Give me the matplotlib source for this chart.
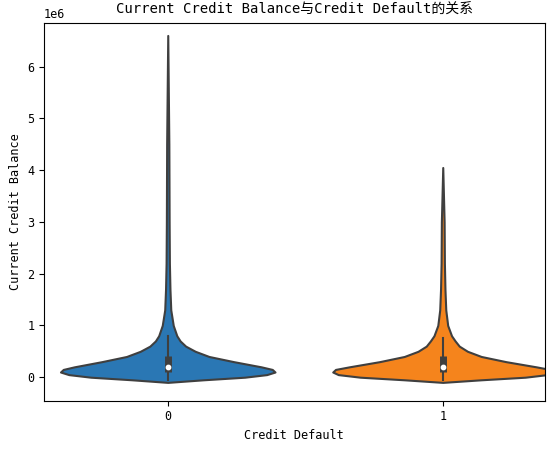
import matplotlib
matplotlib.use("Agg")
import matplotlib.pyplot as plt
import numpy as np

plt.rcParams['font.family'] = ['SimHei', 'DejaVu Sans Mono', 'Noto Sans CJK SC']
plt.rcParams['font.size'] = 8.5
plt.rcParams['axes.unicode_minus'] = False

categories = ["0", "1"]
colors = ["#2a77b4", "#f5841c"]

# density profiles: y (1e6) and half-width
prof_y = [
    [-0.1, -0.05, 0.0, 0.05, 0.1, 0.15, 0.2, 0.3, 0.4, 0.5, 0.6, 0.7, 0.8, 1.0, 1.3, 1.7, 2.2, 3.0, 4.5, 6.6],
    [-0.1, -0.05, 0.0, 0.05, 0.1, 0.15, 0.2, 0.3, 0.4, 0.5, 0.6, 0.7, 0.8, 1.0, 1.3, 1.7, 2.2, 3.0, 4.05],
]
prof_w = [
    [0.0, 0.13, 0.28, 0.36, 0.39, 0.38, 0.34, 0.24, 0.15, 0.1, 0.065, 0.045, 0.033, 0.02, 0.011, 0.008, 0.006, 0.005, 0.004, 0.0],
    [0.0, 0.14, 0.3, 0.38, 0.4, 0.39, 0.34, 0.23, 0.14, 0.09, 0.06, 0.045, 0.032, 0.018, 0.011, 0.008, 0.006, 0.005, 0.0],
]
box_q1 = [0.1, 0.1]
box_q3 = [0.4, 0.4]
whisk_lo = [-0.05, -0.05]
whisk_hi = [0.8, 0.75]
medians = [0.2, 0.2]

fig, ax = plt.subplots(figsize=(5.5, 4.5), dpi=100)
for i in range(2):
    y = np.array(prof_y[i]) * 1e6
    w = np.array(prof_w[i])
    ax.fill_betweenx(y, i - w, i + w, facecolor=colors[i], edgecolor="#3f3f3f", linewidth=1.5, zorder=1)
    ax.plot([i, i], [whisk_lo[i] * 1e6, whisk_hi[i] * 1e6], color="#3f3f3f", lw=1.5, zorder=2)
    ax.plot([i, i], [box_q1[i] * 1e6, box_q3[i] * 1e6], color="#3f3f3f", lw=5, solid_capstyle="butt", zorder=3)
    ax.scatter([i], [medians[i] * 1e6], color="white", s=10, zorder=4)

ax.set_xticks([0, 1])
ax.set_xticklabels(categories)
ax.set_xlim(-0.45, 1.37)
ax.set_ylim(-0.45e6, 6.85e6)
ax.set_xlabel("Credit Default")
ax.set_ylabel("Current Credit Balance")
ax.set_title("Current Credit Balance与Credit Default的关系", fontsize=10)
fig.subplots_adjust(left=0.08, right=0.99, top=0.95, bottom=0.11)
fig.savefig("out.png")
